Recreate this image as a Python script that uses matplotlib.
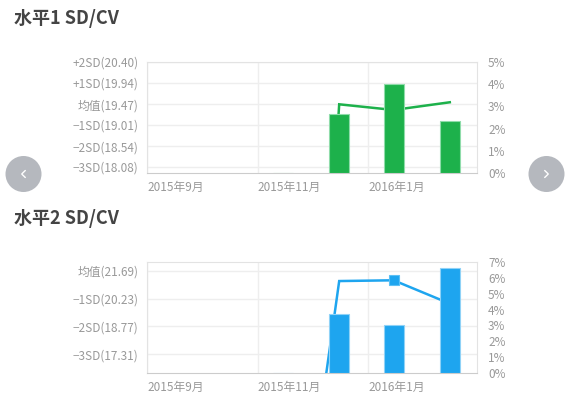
import datetime as dt
import matplotlib
matplotlib.use("Agg")
import matplotlib.pyplot as plt
from matplotlib.patches import Circle

plt.rcParams['font.family'] = ['Noto Sans CJK SC', 'DejaVu Sans']

# data
dates = [dt.date(2015, 11, 15), dt.date(2015, 12, 16), dt.date(2016, 1, 15), dt.date(2016, 2, 15)]
month_ticks = [dt.date(2015, 9, 1), dt.date(2015, 11, 1), dt.date(2016, 1, 1)]
month_labels = ['2015年9月', '2015年11月', '2016年1月']

lvl1_titles = '水平1 SD/CV'
lvl1_sd_ticks = [20.40, 19.94, 19.47, 19.01, 18.54, 18.08]
lvl1_sd_names = ['+2SD', '+1SD', '均值', '−1SD', '−2SD', '−3SD']
lvl1_values = [0.0, 19.465, 19.34, 19.51]
lvl1_cv = [0.0, 2.64, 4.0, 2.36]

lvl2_titles = '水平2 SD/CV'
lvl2_sd_ticks = [21.69, 20.23, 18.77, 17.31]
lvl2_sd_names = ['均值', '−1SD', '−2SD', '−3SD']
lvl2_values = [0.0, 21.16, 21.20, 19.97]
lvl2_cv = [0.0, 3.75, 3.0, 6.65]

GREEN = '#1db14b'
BLUE = '#1ea5ef'
GRID = '#eeeeee'
LABEL = '#999999'

fig = plt.figure(figsize=(5.66, 4.11), dpi=100)


def draw_panel(rect, title, title_y, sd_ticks, sd_names, ylim, values, cv, cv_max, color, marker_idx=None):
    ax = fig.add_axes(rect)
    ax.set_facecolor('white')
    ax.plot(dates, values, color=color, lw=1.8, zorder=3, solid_joinstyle='miter')
    if marker_idx is not None:
        ax.plot([dates[marker_idx]], [values[marker_idx]], marker='s', ms=6.5,
                color=color, mec='#5cc0f5', mew=0.8, zorder=4)
    ax.set_ylim(*ylim)
    ax.set_yticks(sd_ticks)
    ax.set_yticklabels([f'{n}({v:.2f})' for n, v in zip(sd_names, sd_ticks)])
    ax.set_xlim(dt.date(2015, 9, 1), dt.date(2016, 3, 1))
    ax.set_xticks(month_ticks)
    ax.set_xticklabels(month_labels, ha='left')
    ax.grid(True, color=GRID, lw=1)
    ax.tick_params(length=0, labelsize=8.5, colors=LABEL, pad=6)
    ax.tick_params(axis='x', pad=6)
    for s in ax.spines.values():
        s.set_color('#e3e3e3')
    ax.spines['bottom'].set_color('#cccccc')

    ax2 = ax.twinx()
    ax2.bar(dates, cv, width=11, color=color, edgecolor='#8fdcaa' if color == GREEN else '#8fd2f7',
            lw=0.8, zorder=3)
    ax2.set_ylim(0, cv_max)
    ax2.set_yticks(range(cv_max + 1))
    ax2.set_yticklabels([f'{i}%' for i in range(cv_max + 1)])
    ax2.tick_params(length=0, labelsize=8.5, colors=LABEL, pad=8)
    for s in ax2.spines.values():
        s.set_visible(False)

    fig.text(14 / 566, 1 - title_y / 411, title, fontsize=13, fontweight='bold',
             color='#444444', va='center', ha='left')


draw_panel([147 / 566, 1 - 173 / 411, 330 / 566, 111 / 411], lvl1_titles, 18,
           lvl1_sd_ticks, lvl1_sd_names, (17.947, 20.40), lvl1_values, lvl1_cv, 5, GREEN)
draw_panel([147 / 566, 1 - 373 / 411, 330 / 566, 111 / 411], lvl2_titles, 218,
           lvl2_sd_ticks, lvl2_sd_names, (16.31, 22.165), lvl2_values, lvl2_cv, 7, BLUE,
           marker_idx=2)

# navigation buttons
ov = fig.add_axes([0, 0, 1, 1], zorder=10)
ov.set_xlim(0, 566)
ov.set_ylim(411, 0)
ov.axis('off')
for cx, d in [(23.5, -1), (546.5, 1)]:
    ov.add_patch(Circle((cx, 174), 18, color='#b5b8be', lw=0))
    ov.plot([cx - 1.8 * d, cx + 1.8 * d, cx - 1.8 * d], [170.5, 174, 177.5], color='white', lw=1.0,
            solid_capstyle='round', solid_joinstyle='miter')

fig.savefig('out.png', dpi=100)
